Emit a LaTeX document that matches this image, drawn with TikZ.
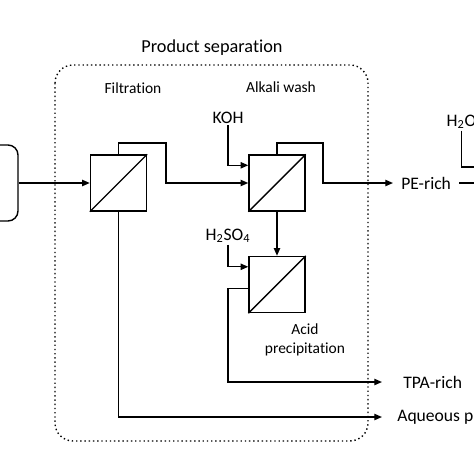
\documentclass[tikz,border=0pt]{standalone}
\usepackage{fontspec}
\setmainfont[Ligatures=NoCommon]{Carlito}
\usetikzlibrary{calc,arrows.meta}
\tikzset{
  pipe/.style={draw, line width=1pt},
  flow/.style={draw, line width=1pt, -{Triangle[length=5.5pt, width=4.5pt]}},
  unit/.style={draw, line width=1pt, minimum size=1.4cm, inner sep=0pt},
  vessel/.style={draw, line width=1pt, rounded corners=0.25cm, minimum width=2cm, minimum height=1.9cm},
  frame/.style={draw, line width=1pt, dotted, rounded corners=0.45cm},
  lab/.style={font=\fontsize{11}{13}\selectfont, inner sep=1pt},
  stream/.style={font=\fontsize{12.5}{14}\selectfont, anchor=west, inner ysep=1pt},
}

\begin{document}
\begin{tikzpicture}[x=0.025cm, y=-0.025cm]
  \useasboundingbox (0,0) rectangle (474,474);
  \clip (0,0) rectangle (474,474);

  % product separation block
  \node[font=\fontsize{13}{15}\selectfont] (title) at (212,48) {Product separation};
  \draw[frame] (55,65) rectangle (368,441);

  \node[vessel] (reactor) at (-22,183) {};

  \node[unit] (filt) at (118.5,183) {};
  \node[unit] (wash) at (277,183) {};
  \node[unit] (acid) at (277,284.5) {};
  \foreach \u in {filt,wash,acid}
    \draw[pipe] (\u.south west) -- (\u.north east);

  \node[lab] (filtlab) at (133,88) {Filtration};
  \node[lab] (washlab) at (281,87) {Alkali wash};
  \node[lab, align=center] (acidlab) at (305,340) {Acid\\precipitation};
  \node[lab, font=\fontsize{12.5}{14}\selectfont] (koh) at (228,118) {KOH};
  \node[lab, font=\fontsize{12.5}{14}\selectfont] (acidin) at (228,236) {H\textsubscript{2}SO\textsubscript{4}};

  \node[stream, inner xsep=5.7pt] (pe) at (393,183) {PE-rich};
  \node[stream, inner xsep=15pt] (tpa) at (382,382) {TPA-rich};
  \node[stream, inner xsep=10.7pt] (aq) at (382,417) {Aqueous phase};
  \node[lab, font=\fontsize{12.5}{14}\selectfont, anchor=west] (water) at (445,122) {H\textsubscript{2}O};

  \coordinate (c1) at (166,143);
  \coordinate (c2) at (323,143);
  \coordinate (c3) at (228,382);
  \coordinate (peout) at (480,183);
  \coordinate (waterout) at (480,167);

  \draw[flow] (reactor.east) -- (filt.west);
  \draw[flow] (filt.north) |- (c1) |- (wash.west);
  \draw[flow] (koh.south) |- ($(wash.north west)+(0,11)$);
  \draw[flow] (wash.north) |- (c2) |- (pe.west);
  \draw[pipe] (pe.east) -- (peout);
  \draw[pipe] (water.south) |- (waterout);

  \draw[flow] (wash.south) -- (acid.north);
  \draw[flow] (acidin.south) |- ($(acid.north west)+(0,11)$);
  \draw[flow] ($(acid.north west)+(0,33)$) -| (c3) -- (tpa.west);
  \draw[flow] (filt.south) |- (aq.west);
\end{tikzpicture}
\end{document}
